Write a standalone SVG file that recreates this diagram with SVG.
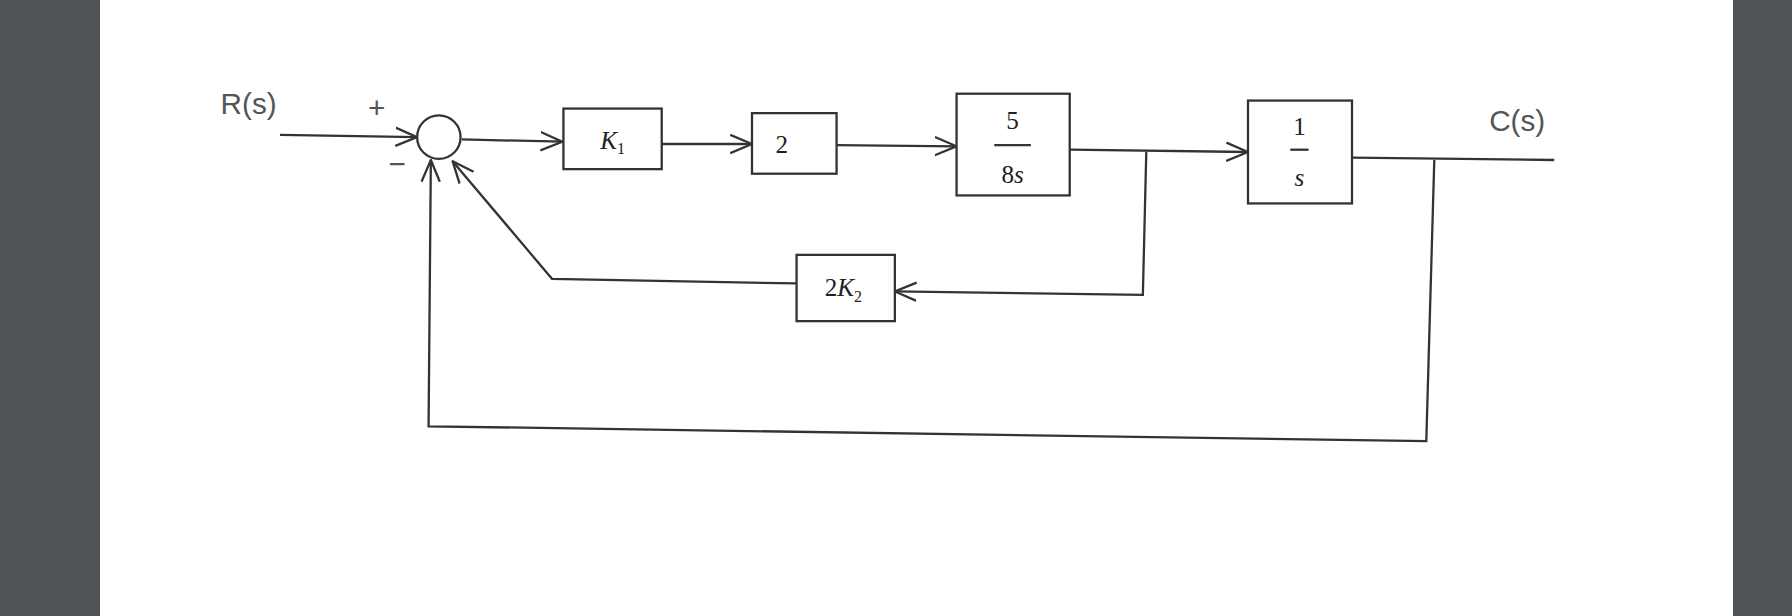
<svg xmlns="http://www.w3.org/2000/svg" width="1792" height="616" viewBox="0 0 1792 616">
<style>
.ln{fill:none;stroke:#333;stroke-width:2}
.bx{fill:#fff;stroke:#333;stroke-width:2}
.m{font-family:"Liberation Serif",serif;font-size:22px;fill:#222;text-anchor:middle}
.h{font-family:"Liberation Sans",sans-serif;font-size:26px;fill:#555}
</style>
<defs><marker id="a" viewBox="0 0 20 20" refX="19" refY="10" markerWidth="20" markerHeight="20" markerUnits="userSpaceOnUse" orient="auto"><path d="M0,2 L19,10 L0,18" fill="none" stroke="#333" stroke-width="2"/></marker></defs>
<rect width="1792" height="616" fill="#fff"/>
<rect width="100" height="616" fill="#505459"/>
<rect x="1733" width="59" height="616" fill="#505459"/>
<g transform="scale(1.142857)">
<g id="connectors">
<path class="ln" d="M245,118 L365,120" marker-end="url(#a)"/>
<path class="ln" d="M404,122 L492,124" marker-end="url(#a)"/>
<path class="ln" d="M579,126 L658,126" marker-end="url(#a)"/>
<path class="ln" d="M732,127 L837,128" marker-end="url(#a)"/>
<path class="ln" d="M936,131 L1092,133" marker-end="url(#a)"/>
<path class="ln" d="M1183,138 L1360,140"/>
<path class="ln" d="M1003,133 L1000,258 L783,255" marker-end="url(#a)"/>
<path class="ln" d="M697,248 L483,244 L396,141" marker-end="url(#a)"/>
<path class="ln" d="M1255,140 L1248,386 L375,373 L377,140" marker-end="url(#a)"/>
</g>
<g id="sum"><circle cx="384" cy="120" r="19" class="bx"/></g>
<g id="k1"><rect class="bx" x="493" y="95" width="86" height="53"/><text class="m" x="536" y="130" font-style="italic">K<tspan font-size="14" dy="5" font-style="normal">1</tspan></text></g>
<g id="two"><rect class="bx" x="658" y="99" width="74" height="53"/><text class="m" x="684" y="134">2</text></g>
<g id="g58"><rect class="bx" x="837" y="82" width="99" height="89"/><text class="m" x="886" y="113">5</text><path class="ln" d="M870,127 H902"/><text class="m" x="886" y="160">8<tspan font-style="italic">s</tspan></text></g>
<g id="g1s"><rect class="bx" x="1092" y="88" width="91" height="90"/><text class="m" x="1137" y="118">1</text><path class="ln" d="M1129,131 H1145"/><text class="m" x="1137" y="163" font-style="italic">s</text></g>
<g id="k2"><rect class="bx" x="697" y="223" width="86" height="58"/><text class="m" x="738" y="259">2<tspan font-style="italic">K</tspan><tspan font-size="14" dy="5">2</tspan></text></g>
<g id="labels">
<text class="h" x="193" y="100">R(s)</text>
<text class="h" x="1303" y="115">C(s)</text>
<text class="h" x="322" y="103" font-size="22">+</text>
<text class="h" x="340" y="152" font-size="22">−</text>
</g>
</g>
</svg>
